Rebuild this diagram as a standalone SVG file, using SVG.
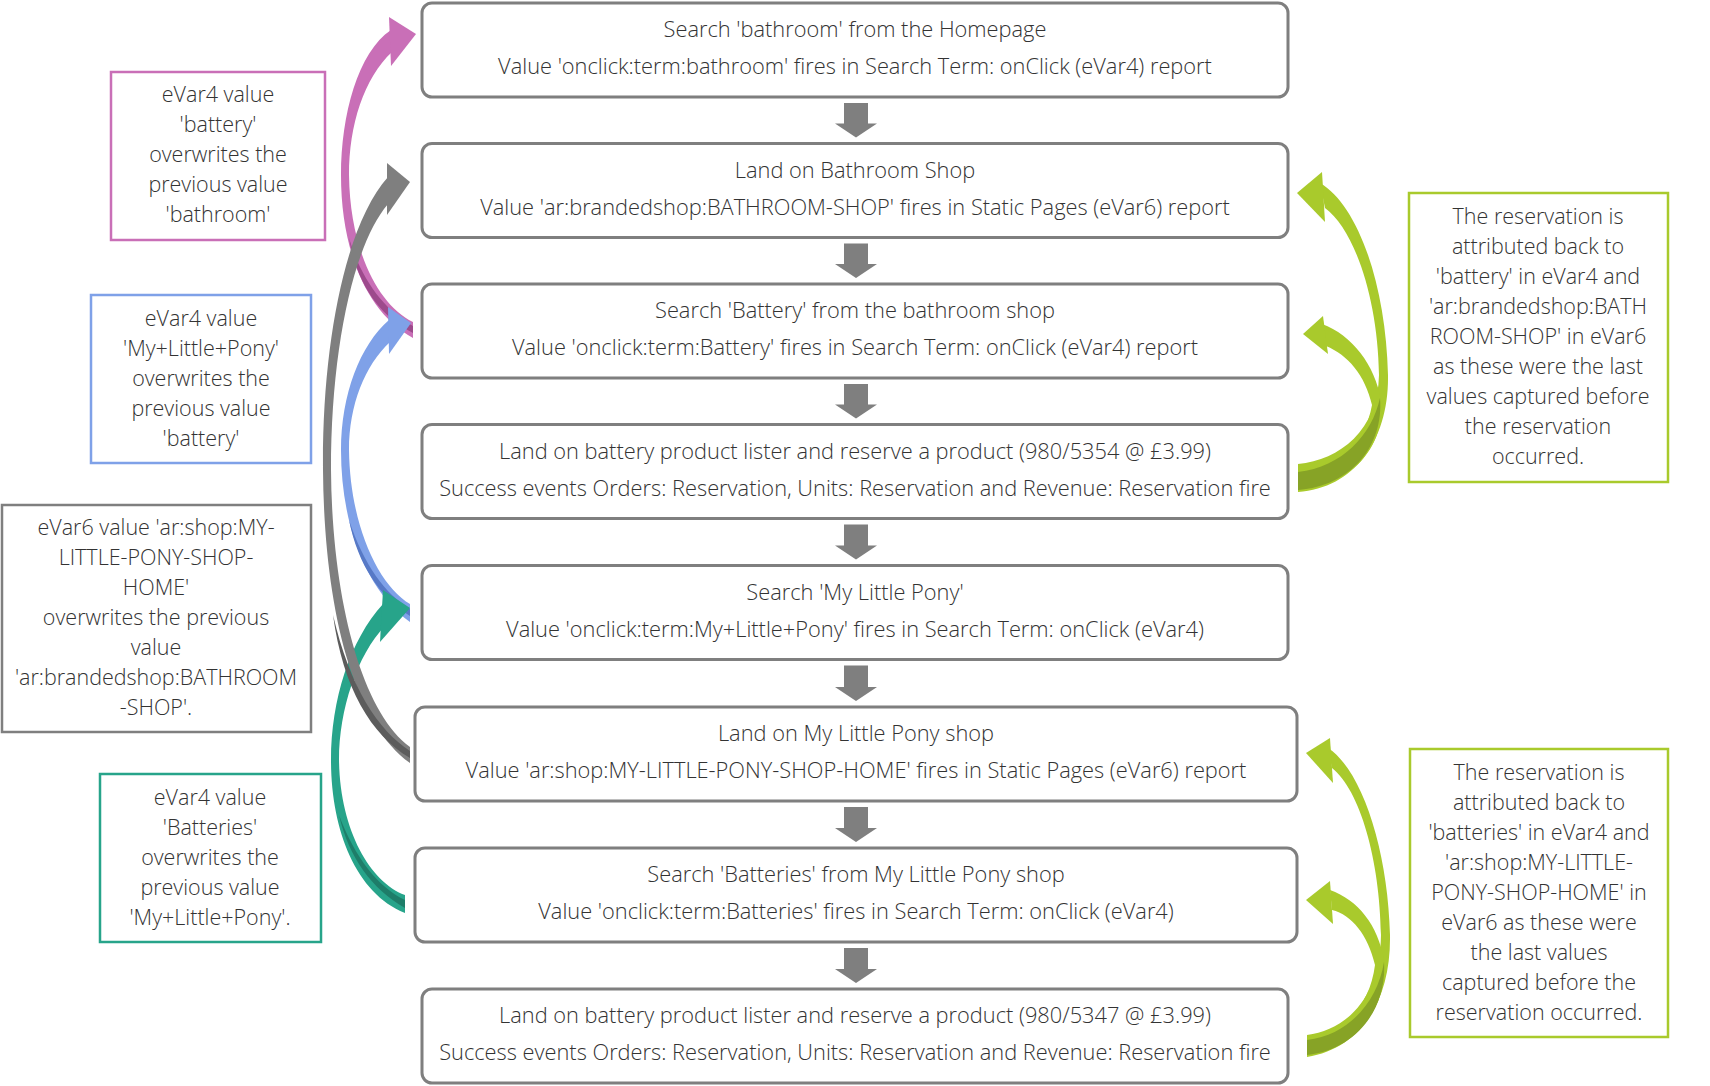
<svg xmlns="http://www.w3.org/2000/svg" width="1710" height="1086" viewBox="0 0 1710 1086">
<style>
.box{fill:#fff;stroke:#7f7f7f;stroke-width:3}
.t{font-family:"Open Sans","Liberation Sans",sans-serif;font-size:21.5px;font-weight:300;fill:#333;text-anchor:middle}
.m{font-size:21.8px}
.flow{fill:#7f7f7f}
.note{fill:#fff;stroke-width:2.5}
.pink{fill:#c96fb7}.pinkd{fill:#9d4a8c}
.blue{fill:#7fa1e8}.blued{fill:#5779c6}
.gray{fill:#7f7f7f}.grayd{fill:#5c5c5c}
.teal{fill:#27a48a}.teald{fill:#1e7d69}
.green{fill:#a9ca2c}.greend{fill:#87a326}
</style>
<rect width="1710" height="1086" fill="#fff"/>

<g id="step1"><rect class="box" x="422" y="3" width="866" height="94" rx="10"/>
<text class="t m" x="855" y="37">Search 'bathroom' from the Homepage</text>
<text class="t m" x="855" y="74">Value 'onclick:term:bathroom' fires in Search Term: onClick (eVar4) report</text></g>

<g id="step2"><rect class="box" x="422" y="143.5" width="866" height="94" rx="10"/>
<text class="t m" x="855" y="177.5">Land on Bathroom Shop</text>
<text class="t m" x="855" y="214.5">Value 'ar:brandedshop:BATHROOM-SHOP' fires in Static Pages (eVar6) report</text></g>

<g id="step3"><rect class="box" x="422" y="284" width="866" height="94" rx="10"/>
<text class="t m" x="855" y="318">Search 'Battery' from the bathroom shop</text>
<text class="t m" x="855" y="355">Value 'onclick:term:Battery' fires in Search Term: onClick (eVar4) report</text></g>

<g id="step4"><rect class="box" x="422" y="424.5" width="866" height="94" rx="10"/>
<text class="t m" x="855" y="458.5">Land on battery product lister and reserve a product (980/5354 @ £3.99)</text>
<text class="t m" x="855" y="495.5">Success events Orders: Reservation, Units: Reservation and Revenue: Reservation fire</text></g>

<g id="step5"><rect class="box" x="422" y="565.5" width="866" height="94" rx="10"/>
<text class="t m" x="855" y="599.5">Search 'My Little Pony'</text>
<text class="t m" x="855" y="636.5">Value 'onclick:term:My+Little+Pony' fires in Search Term: onClick (eVar4)</text></g>

<g id="step6"><rect class="box" x="415" y="707" width="882" height="94" rx="10"/>
<text class="t m" x="856" y="741">Land on My Little Pony shop</text>
<text class="t m" x="856" y="778">Value 'ar:shop:MY-LITTLE-PONY-SHOP-HOME' fires in Static Pages (eVar6) report</text></g>

<g id="step7"><rect class="box" x="415" y="848" width="882" height="94" rx="10"/>
<text class="t m" x="856" y="882">Search 'Batteries' from My Little Pony shop</text>
<text class="t m" x="856" y="919">Value 'onclick:term:Batteries' fires in Search Term: onClick (eVar4)</text></g>

<g id="step8"><rect class="box" x="422" y="989" width="866" height="94" rx="10"/>
<text class="t m" x="855" y="1023">Land on battery product lister and reserve a product (980/5347 @ £3.99)</text>
<text class="t m" x="855" y="1060">Success events Orders: Reservation, Units: Reservation and Revenue: Reservation fire</text></g>

<g id="note-pink"><rect class="note" stroke="#c96fb7" x="111" y="72" width="214" height="168"/>
<text class="t" x="218" y="102">eVar4 value</text>
<text class="t" x="218" y="132">'battery'</text>
<text class="t" x="218" y="162">overwrites the</text>
<text class="t" x="218" y="192">previous value</text>
<text class="t" x="218" y="222">'bathroom'</text></g>

<g id="note-blue"><rect class="note" stroke="#7fa1e8" x="91" y="295" width="220" height="168"/>
<text class="t" x="201" y="326">eVar4 value</text>
<text class="t" x="201" y="356">'My+Little+Pony'</text>
<text class="t" x="201" y="386">overwrites the</text>
<text class="t" x="201" y="416">previous value</text>
<text class="t" x="201" y="446">'battery'</text></g>

<g id="note-gray"><rect class="note" stroke="#7f7f7f" x="2" y="505" width="309" height="227"/>
<text class="t" x="156" y="535">eVar6 value 'ar:shop:MY-</text>
<text class="t" x="156" y="565">LITTLE-PONY-SHOP-</text>
<text class="t" x="156" y="595">HOME'</text>
<text class="t" x="156" y="625">overwrites the previous</text>
<text class="t" x="156" y="655">value</text>
<text class="t" x="156" y="685">'ar:brandedshop:BATHROOM</text>
<text class="t" x="156" y="715">-SHOP'.</text></g>

<g id="note-teal"><rect class="note" stroke="#27a48a" x="100" y="774" width="221" height="168"/>
<text class="t" x="210" y="805">eVar4 value</text>
<text class="t" x="210" y="835">'Batteries'</text>
<text class="t" x="210" y="865">overwrites the</text>
<text class="t" x="210" y="895">previous value</text>
<text class="t" x="210" y="925">'My+Little+Pony'.</text></g>

<g id="note-green1"><rect class="note" stroke="#a9ca2c" x="1409" y="193" width="259" height="289"/>
<text class="t" x="1538" y="224">The reservation is</text>
<text class="t" x="1538" y="254">attributed back to</text>
<text class="t" x="1538" y="284">'battery' in eVar4 and</text>
<text class="t" x="1538" y="314">'ar:brandedshop:BATH</text>
<text class="t" x="1538" y="344">ROOM-SHOP' in eVar6</text>
<text class="t" x="1538" y="374">as these were the last</text>
<text class="t" x="1538" y="404">values captured before</text>
<text class="t" x="1538" y="434">the reservation</text>
<text class="t" x="1538" y="464">occurred.</text></g>

<g id="note-green2"><rect class="note" stroke="#a9ca2c" x="1410" y="749" width="258" height="288"/>
<text class="t" x="1539" y="780">The reservation is</text>
<text class="t" x="1539" y="810">attributed back to</text>
<text class="t" x="1539" y="840">'batteries' in eVar4 and</text>
<text class="t" x="1539" y="870">'ar:shop:MY-LITTLE-</text>
<text class="t" x="1539" y="900">PONY-SHOP-HOME' in</text>
<text class="t" x="1539" y="930">eVar6 as these were</text>
<text class="t" x="1539" y="960">the last values</text>
<text class="t" x="1539" y="990">captured before the</text>
<text class="t" x="1539" y="1020">reservation occurred.</text></g>

<g id="connectors">
<path class="flow" d="M844,103 H868 V123.5 H877 L856,137.5 L835,123.5 H844 Z"/>
<path class="flow" d="M844,243.5 H868 V264 H877 L856,278 L835,264 H844 Z"/>
<path class="flow" d="M844,384 H868 V404.5 H877 L856,418.5 L835,404.5 H844 Z"/>
<path class="flow" d="M844,524.5 H868 V545.5 H877 L856,559.5 L835,545.5 H844 Z"/>
<path class="flow" d="M844,665.5 H868 V687 H877 L856,701 L835,687 H844 Z"/>
<path class="flow" d="M844,807 H868 V828 H877 L856,842 L835,828 H844 Z"/>
<path class="flow" d="M844,948 H868 V969 H877 L856,983 L835,969 H844 Z"/>

<g id="arrow-pink">
<path class="pink" d="M391,30 C358,52 341,115 341,175 C341,250 366,312 413,338 L413,322 C378,305 350,250 349,175 C349,125 364,78 392,52 Z"/>
<path class="pinkd" d="M349,238 C357,285 380,316 413,333 L413,326 C386,311 362,282 349,238 Z"/>
<polygon class="pink" points="389,17 416,34 391,66"/>
</g>
<g id="arrow-blue">
<path class="blue" d="M389,320 C360,345 341,395 341,450 C341,525 366,590 410,622 L410,604 C378,585 350,525 349,450 C349,405 365,365 390,342 Z"/>
<path class="blued" d="M349,520 C358,565 380,597 410,616 L410,609 C385,594 364,565 349,520 Z"/>
<polygon class="blue" points="388,307 411,323 389,354"/>
</g>
<g id="arrow-teal">
<path class="teal" d="M383,604 C350,640 331,700 331,760 C331,830 356,893 405,913 L405,895 C370,882 340,830 339,760 C339,710 357,655 385,626 Z"/>
<path class="teald" d="M339,815 C349,858 372,889 405,908 L405,900 C378,887 355,858 339,815 Z"/>
<polygon class="teal" points="383,590 410,608 380,642"/>
</g>
<g id="arrow-gray">
<path class="gray" d="M388,177 C345,225 322,345 323,470 C324,600 350,720 410,763 L410,747 C362,712 332,600 331,470 C331,350 353,245 388,204 Z"/>
<path class="grayd" d="M333,615 C343,688 371,735 410,758 L410,751 C378,730 350,688 333,615 Z"/>
<polygon class="gray" points="387,163 410,182 387,215"/>
</g>

<g id="arrow-green1">
<path class="green" d="M1320,183 C1358,205 1386,285 1388,375 C1389,440 1355,488 1298,492 L1298,464 C1340,460 1378,430 1379,375 C1378,300 1355,230 1325,208 Z"/>
<path class="green" d="M1322,324 C1352,335 1375,365 1381,400 C1385,450 1350,485 1298,488 L1298,470 C1335,468 1365,445 1372,405 C1365,375 1348,355 1326,346 Z"/>
<path class="greend" d="M1298,472 C1342,467 1372,435 1380,398 C1384,445 1352,486 1298,490 Z"/>
<polygon class="green" points="1322,172 1297,193 1325,222"/>
<polygon class="green" points="1323,316 1303,334 1328,354"/>
</g>
<g id="arrow-green2">
<path class="green" d="M1328,748 C1362,770 1388,850 1390,935 C1391,1000 1362,1048 1307,1057 L1307,1035 C1345,1030 1380,1000 1381,935 C1380,860 1360,790 1332,768 Z"/>
<path class="green" d="M1330,890 C1358,900 1378,925 1384,960 C1388,1010 1355,1045 1307,1052 L1307,1037 C1345,1032 1370,1005 1375,965 C1368,935 1352,915 1332,910 Z"/>
<path class="greend" d="M1307,1040 C1350,1035 1378,1000 1384,962 C1387,1010 1355,1050 1307,1055 Z"/>
<polygon class="green" points="1330,738 1306,753 1333,783"/>
<polygon class="green" points="1330,881 1306,900 1333,924"/>
</g>
</g>
</svg>
